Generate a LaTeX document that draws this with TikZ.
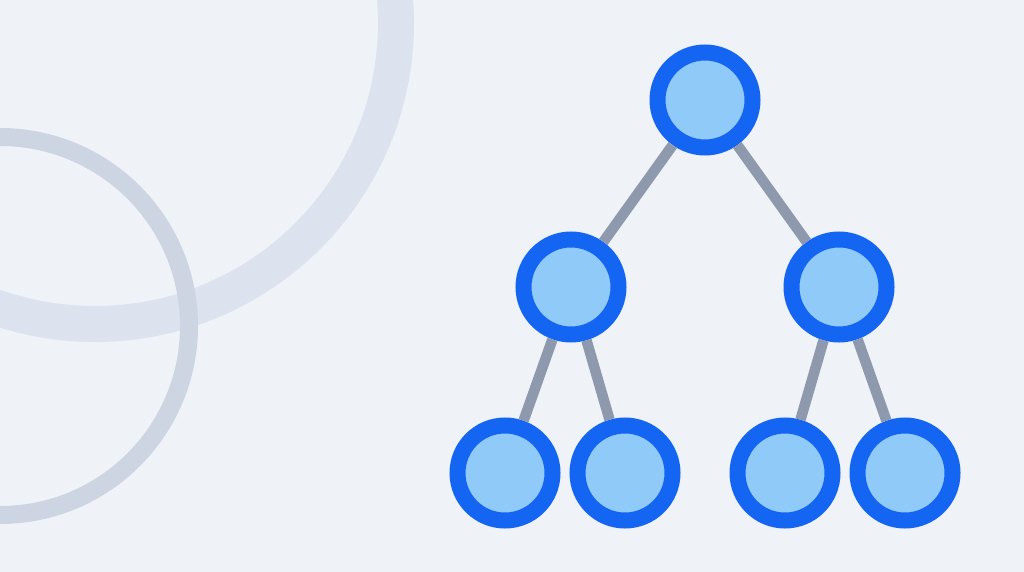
\documentclass[tikz,border=0pt]{standalone}
\usepackage{tikz}

\definecolor{bgcol}{HTML}{EFF3F8}
\definecolor{ringbig}{HTML}{DCE2EE}
\definecolor{ringsmall}{HTML}{CDD5E3}
\definecolor{nodeline}{HTML}{1565F3}
\definecolor{nodefill}{HTML}{90CAF9}
\definecolor{edgecol}{HTML}{8E99AE}

\tikzset{
  treenode/.style={circle, draw=nodeline, fill=nodefill, line width=16pt, minimum size=95pt, inner sep=0pt},
  treeedge/.style={draw=edgecol, line width=10.5pt}
}

\begin{document}
\begin{tikzpicture}[x=1pt, y=-1pt]
\useasboundingbox (0,0) rectangle (1024,572);
\fill[bgcol] (0,0) rectangle (1024,572);
\begin{scope}
    \clip (0,0) rectangle (1024,572);
    \draw[ringbig, line width=36pt] (95,23) circle[radius=301];
    \draw[ringsmall, line width=18pt] (0,326) circle[radius=189];
\end{scope}

\node[treenode] (root) at (705,100) {};
\node[treenode] (l)  at (571,287) {};
\node[treenode] (r)  at (839,287) {};
\node[treenode] (ll) at (505,473) {};
\node[treenode] (lr) at (625,473) {};
\node[treenode] (rl) at (785,473) {};
\node[treenode] (rr) at (905,473) {};

\draw[treeedge] (root) -- (l);
\draw[treeedge] (root) -- (r);
\draw[treeedge] (l) -- (ll);
\draw[treeedge] (l) -- (lr);
\draw[treeedge] (r) -- (rl);
\draw[treeedge] (r) -- (rr);
\end{tikzpicture}
\end{document}
